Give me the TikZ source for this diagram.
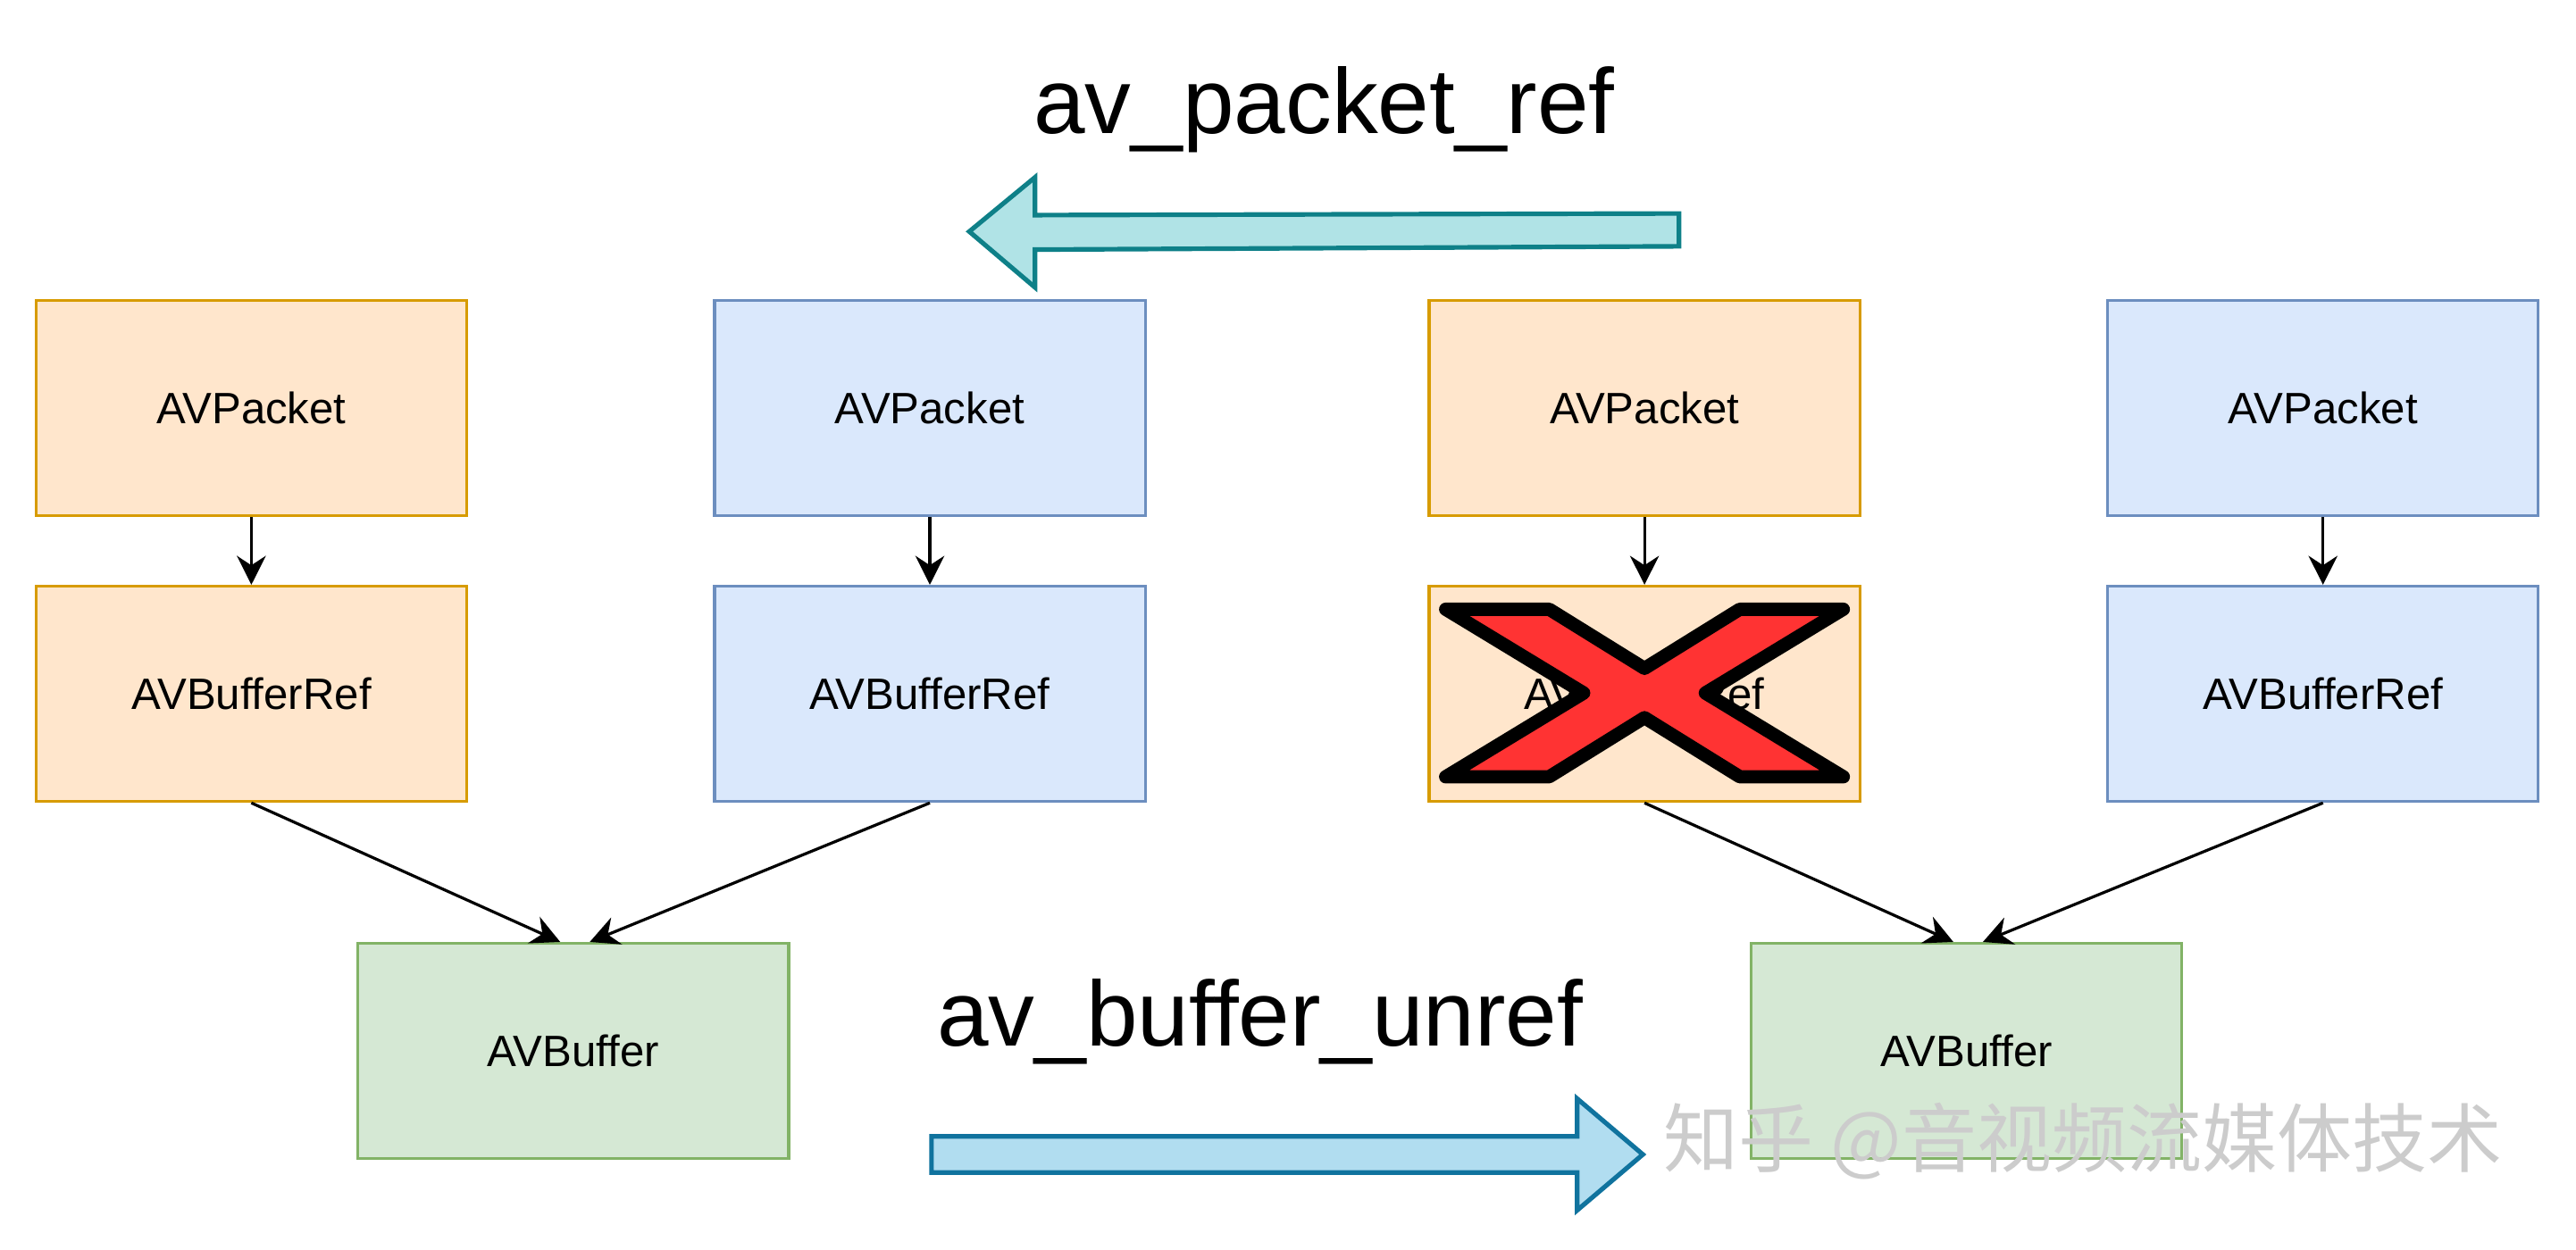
\documentclass[tikz,border=0pt]{standalone}
\usepackage{fontspec}
\setmainfont{Liberation Sans}
\newfontfamily\cjk{Noto Sans CJK SC}
\usetikzlibrary{arrows.meta}
\definecolor{pktfill}{HTML}{FFE6CC}
\definecolor{pktline}{HTML}{D79B00}
\definecolor{reffill}{HTML}{DAE8FC}
\definecolor{refline}{HTML}{6C8EBF}
\definecolor{buffill}{HTML}{D5E8D4}
\definecolor{bufline}{HTML}{82B366}
\definecolor{tealfill}{HTML}{B0E3E6}
\definecolor{tealline}{HTML}{0E8088}
\definecolor{bluefill}{HTML}{B1DDF0}
\definecolor{blueline}{HTML}{10739E}

\begin{document}
\begin{tikzpicture}[x=0.01cm, y=-0.01cm,
    box/.style={rectangle, draw, line width=0.5pt, minimum width=2.62cm, minimum height=1.31cm, font=\fontsize{7.6}{9}\selectfont},
    orange/.style={box, fill=pktfill, draw=pktline},
    blue/.style={box, fill=reffill, draw=refline},
    green/.style={box, fill=buffill, draw=bufline},
    link/.style={-{Stealth[length=5pt, width=5pt]}, line width=0.5pt},
    title/.style={font=\fontsize{16}{19}\selectfont}]
    \useasboundingbox (0,0) rectangle (1568,761);

    \node at (153,248.5) [orange] (Pkt1) {AVPacket};
    \node at (153,422.5) [orange] (Ref1) {AVBufferRef};
    \node at (566,248.5) [blue] (Pkt2) {AVPacket};
    \node at (566,422.5) [blue] (Ref2) {AVBufferRef};
    \node at (349,640) [green] (Buf1) {AVBuffer};
    \node at (1001,248.5) [orange] (Pkt3) {AVPacket};
    \node at (1001,422.5) [orange] (Ref3) {AVBufferRef};
    \node at (1414,248.5) [blue] (Pkt4) {AVPacket};
    \node at (1414,422.5) [blue] (Ref4) {AVBufferRef};
    \node at (1197,640) [green] (Buf2) {AVBuffer};

    \draw[link] (Pkt1) -- (Ref1);
    \draw[link] (Pkt2) -- (Ref2);
    \draw[link] (Pkt3) -- (Ref3);
    \draw[link] (Pkt4) -- (Ref4);
    \draw[link] (Ref1.south) -- ([xshift=-0.08cm]Buf1.north);
    \draw[link] (Ref2.south) -- ([xshift=0.1cm]Buf1.north);
    \draw[link] (Ref3.south) -- ([xshift=-0.08cm]Buf2.north);
    \draw[link] (Ref4.south) -- ([xshift=0.1cm]Buf2.north);

    % the cross over the released reference
    \draw[fill=red!80!white, draw=black, line width=2.3pt, line join=round]
        (880,371) -- (943,371) -- (1001,407) -- (1059,371) -- (1122,371) -- (1038,422)
        -- (1122,473) -- (1059,473) -- (1001,437) -- (943,473) -- (880,473) -- (964,422) -- cycle;

    % block arrows
    \draw[fill=tealfill, draw=tealline, line width=0.8pt]
        (1022,130) -- (630,131) -- (630,108) -- (590,141) -- (630,175) -- (630,152) -- (1022,150) -- cycle;
    \draw[fill=bluefill, draw=blueline, line width=0.8pt]
        (567,692) -- (960,692) -- (960,669) -- (1000,703) -- (960,737) -- (960,714) -- (567,714) -- cycle;

    \node at (806,67) [title] (PktRef) {av\_packet\_ref};
    \node at (767,622) [title] (BufUnref) {av\_buffer\_unref};
    \node at (1268,695) [font=\cjk\fontsize{13}{15}\selectfont, text=gray!40] (Mark) {知乎 @音视频流媒体技术};
\end{tikzpicture}
\end{document}
